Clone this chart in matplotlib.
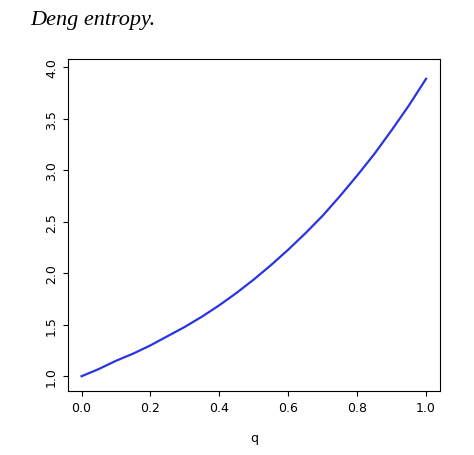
import matplotlib
matplotlib.use("Agg")
import matplotlib.pyplot as plt

q = [0.0, 0.05, 0.1, 0.15, 0.2, 0.25, 0.3, 0.35, 0.4, 0.45, 0.5, 0.55, 0.6, 0.65, 0.7, 0.75, 0.8, 0.85, 0.9, 0.95, 1.0]
entropy = [1.0, 1.07, 1.15, 1.22, 1.30, 1.39, 1.48, 1.58, 1.69, 1.81, 1.94, 2.08, 2.23, 2.39, 2.56, 2.75, 2.95, 3.16, 3.39, 3.63, 3.89]
xticks = [0.0, 0.2, 0.4, 0.6, 0.8, 1.0]
yticks = [1.0, 1.5, 2.0, 2.5, 3.0, 3.5, 4.0]

fig = plt.figure(figsize=(4.74, 4.56), dpi=100)
ax = fig.add_axes([0.143, 0.14, 0.785, 0.728])
ax.plot(q, entropy, color="#2a35e0", lw=1.6)
ax.set_xlim(-0.04, 1.04)
ax.set_ylim(0.855, 4.08)
ax.set_xticks(xticks)
ax.set_xticklabels([f"{t:.1f}" for t in xticks], fontsize=9)
ax.set_yticks(yticks)
ax.set_yticklabels([f"{t:.1f}" for t in yticks], fontsize=9, rotation=90, va="center")
ax.set_xlabel("q", fontsize=9, labelpad=12)
fig.text(0.063, 0.975, "Deng entropy.", fontsize=16, family="Liberation Serif", style="italic", va="top")
fig.savefig("out.png", dpi=100)
